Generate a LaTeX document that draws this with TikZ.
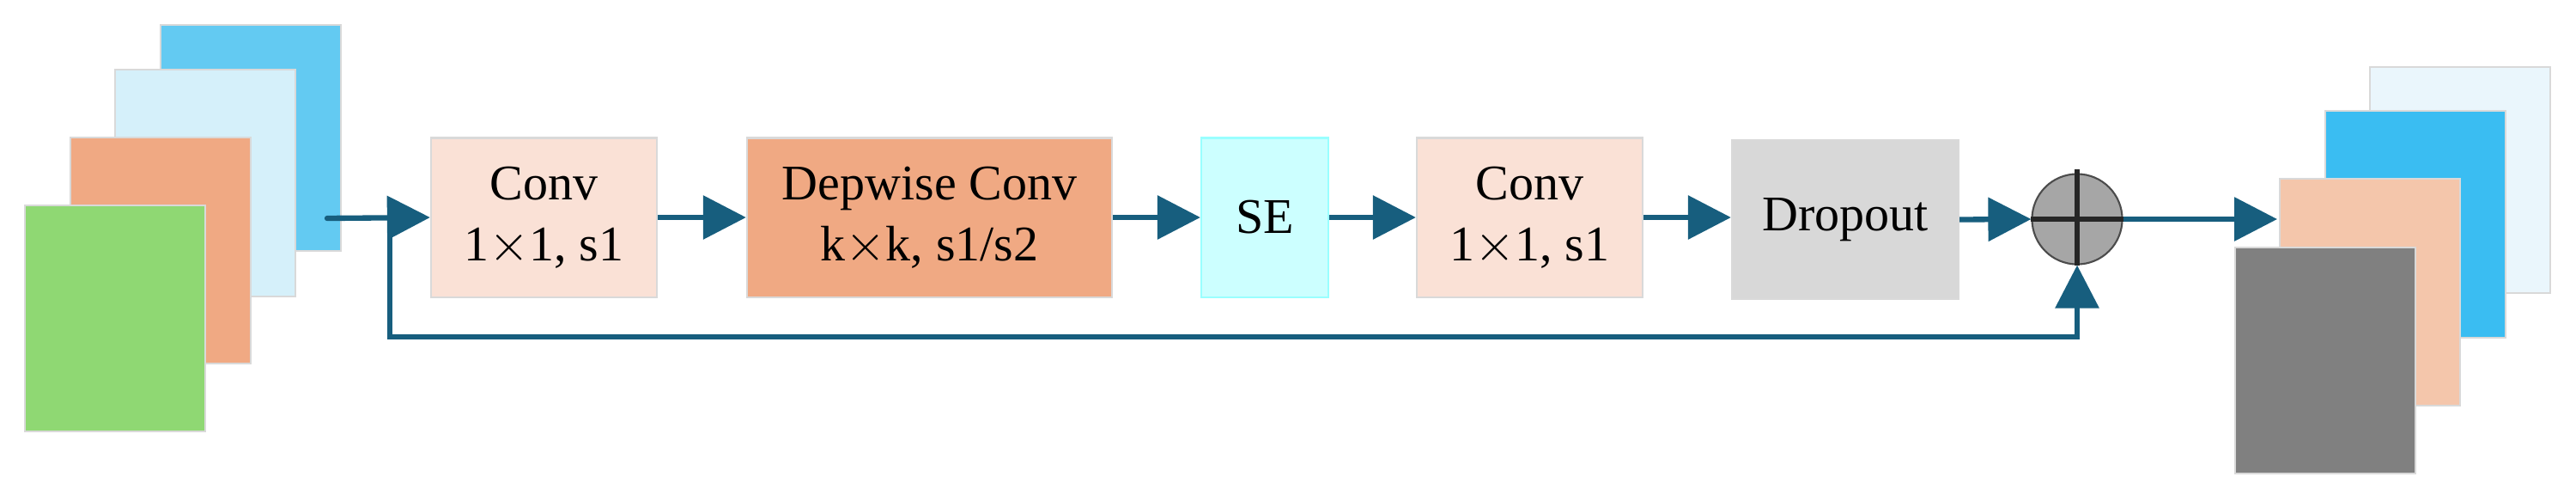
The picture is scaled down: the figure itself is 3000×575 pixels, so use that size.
\documentclass[tikz,border=0pt]{standalone}
\usepackage{fontspec}
\setmainfont{Liberation Serif}
\usetikzlibrary{arrows.meta}
\definecolor{arr}{RGB}{23,94,126}
\definecolor{cA}{HTML}{63CAF2}
\definecolor{cB}{HTML}{D5F0FA}
\definecolor{cC}{HTML}{F0A983}
\definecolor{cD}{HTML}{8FD873}
\definecolor{cE}{HTML}{EAF6FC}
\definecolor{cF}{HTML}{3ABDF2}
\definecolor{cG}{HTML}{F4C6AB}
\definecolor{cH}{HTML}{808080}
\definecolor{convc}{HTML}{FAE1D6}
\definecolor{sec}{HTML}{CCFFFF}
\definecolor{sebd}{HTML}{99FFFF}
\definecolor{dropc}{HTML}{D8D8D8}
\definecolor{bd}{HTML}{D9D9D9}
\begin{document}
\begin{tikzpicture}[x=0.01cm,y=-0.01cm,
  sheet/.style={draw=bd,line width=0.6pt,minimum width=2.1cm,minimum height=2.63cm,inner sep=0pt},
  blk/.style={draw=bd,line width=0.6pt,minimum height=1.85cm,inner sep=0pt,align=center,font=\fontsize{16.5}{20.3}\selectfont},
  con/.style={arr,line width=1.8pt,-{Triangle[length=0.5cm,width=0.5cm]}}]
\useasboundingbox (0,0) rectangle (3000,575);
% input stack
\node[sheet,fill=cA] (i1) at (292,160.5) {};
\node[sheet,fill=cB] (i2) at (239,213) {};
\node[sheet,fill=cC] (i3) at (187,291.5) {};
\node[sheet,fill=cD] (i4) at (134,370.5) {};
% output stack
\node[sheet,fill=cE] (o1) at (2865,209.5) {};
\node[sheet,fill=cF] (o2) at (2813,261) {};
\node[sheet,fill=cG] (o3) at (2760,340) {};
\node[sheet,fill=cH] (o4) at (2708,419.5) {};
% blocks
\node[blk,fill=convc,minimum width=2.63cm] (c1) at (633.5,253) {Conv\\1$\times$1, s1};
\node[blk,fill=cC,minimum width=4.25cm] (dw) at (1082.5,253) {Depwise Conv\\k$\times$k, s1/s2};
\node[blk,fill=sec,draw=sebd,minimum width=1.48cm] (se) at (1473,253) {SE};
\node[blk,fill=convc,minimum width=2.63cm] (c2) at (1781.5,253) {Conv\\1$\times$1, s1};
\node[blk,fill=dropc,minimum width=2.64cm] (dr) at (2149,255.5) {Dropout};
\node[circle,draw=black!70,fill=black!35,line width=0.6pt,minimum size=1.05cm,inner sep=0pt] (add) at (2419,255) {};
\draw[black!85,line width=1.7pt] (add.north)++(0,-4) -- (add.south);
\draw[black!85,line width=1.7pt] (add.west) -- (add.east);
\coordinate (inS) at (381,254);
\coordinate (skip) at (454,254);
\coordinate (outE) at (2652,255);
% connectors
\draw[arr,line width=1.8pt,line cap=round] (skip) -- (454,392) -| (2419,361);
\draw[con,line cap=round] (inS) -- (c1.west);
\draw[con] (c1.east) -- (dw.west);
\draw[con] (dw.east) -- (se.west);
\draw[con] (se.east) -- (c2.west);
\draw[con] (c2.east) -- (dr.west |- c2.east);
\draw[con] (dr.east) -- (add.west);
\draw[con] (add.east) -- (outE);
\draw[con] (2419,370) -- (add.south);
\end{tikzpicture}
\end{document}
